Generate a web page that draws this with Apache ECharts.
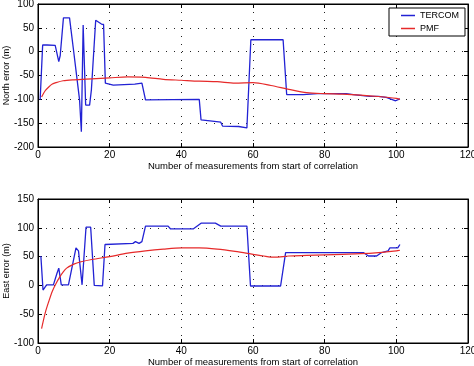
<!DOCTYPE html>
<html>
<head>
<meta charset="utf-8">
<script src="https://cdn.jsdelivr.net/npm/echarts@6/dist/echarts.min.js"></script>
<style>html,body{margin:0;padding:0;background:#fff}#c{width:474px;height:366px}</style>
</head>
<body>
<div id="c"></div>
<script>
var xTicks = [0, 20, 40, 60, 80, 100, 120];
var northTicks = [-200, -150, -100, -50, 0, 50, 100];
var eastTicks = [-100, -50, 0, 50, 100, 150];

var northTercom = [[0.6,-101],[1.3,14],[2.5,14],[4.8,13],[5.8,-21],[6.2,-8],[7.1,71],[8.8,71],[9.9,4],[11.6,-101],[12.1,-168],[12.6,56],[13.3,-112],[14.4,-112],[14.9,-80],[16.1,66],[17.7,58],[18.3,57],[18.8,-66],[21,-70],[27,-68],[29,-66],[30,-101],[45,-100],[45.5,-143],[48,-145],[51,-148],[51.5,-156],[56,-157],[58.3,-160],[59.4,25],[68.4,25],[69.4,-90],[74,-90],[78,-88],[86,-88],[88,-90],[92.6,-94],[95,-94],[97.2,-96],[99.8,-103],[101,-99]];
var northPmf = [[1,-95],[2,-82],[3,-74],[4,-68],[5,-65],[7,-61],[10,-59],[15,-57],[20,-55],[25,-53],[30,-54],[35,-58],[40,-60],[45,-62],[50,-63],[55,-66],[60,-65],[65,-71],[70,-79],[75,-86],[80,-88],[85,-89],[90,-91],[95,-94],[100,-98],[101,-100]];
var eastTercom = [[0.8,51],[1.1,50],[1.4,-8],[1.9,-10],[2.4,1],[4.3,1],[5.3,21],[5.8,30],[6.5,1],[8.5,1],[10.6,65],[11.3,60],[12.3,1],[13.4,101],[14.7,101],[15.7,0],[18.0,-1],[18.7,71],[26.5,73],[27.2,76],[28.2,73],[29,76],[30,103],[36.3,103],[37,98],[43.3,98],[45.5,108],[49.5,108],[51,103],[58.3,103],[59.3,-1],[67.7,-1],[69.1,57],[90.8,57],[92.2,51],[94.5,51],[95.9,57],[97.7,60],[98.2,65],[100.4,65],[101,71]];
var eastPmf = [[1,-75],[2,-48],[3,-28],[4,-10],[5,3],[6,14],[7,23],[8,30],[10,37],[12,41],[15,45],[20,50],[25,56],[30,60],[35,63],[40,65],[45,65],[50,63],[55,59],[60,54],[63,51],[66,49],[70,51],[75,52],[80,53],[85,54],[90,55],[95,57],[100,60],[101,61]];

var FONT = 'Liberation Sans';
var BLUE = '#2222d4';
var RED = '#e62a2a';

function mkX(grid, pos, main, ticks, gap) {
  return {
    type: 'value', gridIndex: grid, position: pos,
    min: ticks[0], max: ticks[ticks.length - 1], interval: ticks[1] - ticks[0],
    name: main ? 'Number of measurements from start of correlation' : '',
    nameLocation: 'middle', nameGap: gap, nameMoveOverlap: false,
    nameTextStyle: { fontFamily: FONT, fontSize: 9.5, color: '#000' },
    axisLine: { show: true, onZero: false, lineStyle: { color: '#000', width: 1 } },
    axisTick: { show: true, inside: true, length: 4, lineStyle: { color: '#000' } },
    axisLabel: { show: main, margin: 3, fontFamily: FONT, fontSize: 10, color: '#000' },
    splitLine: { show: main, lineStyle: { color: '#222', type: [1, 7], width: 1 } }
  };
}
function mkY(grid, pos, main, ticks, name) {
  return {
    type: 'value', gridIndex: grid, position: pos,
    min: ticks[0], max: ticks[ticks.length - 1], interval: ticks[1] - ticks[0],
    name: main ? name : '',
    nameLocation: 'middle', nameGap: 27, nameMoveOverlap: false,
    nameTextStyle: { fontFamily: FONT, fontSize: 9, color: '#000' },
    axisLine: { show: true, onZero: false, lineStyle: { color: '#000', width: 1 } },
    axisTick: { show: true, inside: true, length: 4, lineStyle: { color: '#000' } },
    axisLabel: { show: main, margin: 4, fontFamily: FONT, fontSize: 10, color: '#000' },
    splitLine: { show: main, lineStyle: { color: '#222', type: [1, 7], width: 1 } }
  };
}

var chart = echarts.init(document.getElementById('c'), null, { renderer: 'canvas' });
chart.setOption({
  animation: false,
  backgroundColor: '#fff',
  grid: [
    { left: 38, top: 4, width: 430, height: 143, show: true, borderColor: '#000', borderWidth: 1, containLabel: false, outerBoundsMode: 'none' },
    { left: 38, top: 199, width: 430, height: 144, show: true, borderColor: '#000', borderWidth: 1, containLabel: false, outerBoundsMode: 'none' }
  ],
  legend: {
    data: ['TERCOM', 'PMF'],
    orient: 'vertical', left: 389, top: 8,
    padding: [3, 6, 3, 12], itemGap: 4, itemWidth: 14, itemHeight: 1.5,
    icon: 'rect',
    backgroundColor: '#fff', borderColor: '#000', borderWidth: 1,
    textStyle: { fontFamily: FONT, fontSize: 9, color: '#000' }
  },
  xAxis: [
    mkX(0, 'bottom', true, xTicks, 14),
    mkX(0, 'top', false, xTicks, 14),
    mkX(1, 'bottom', true, xTicks, 14),
    mkX(1, 'top', false, xTicks, 14)
  ],
  yAxis: [
    mkY(0, 'left', true, northTicks, 'North error (m)'),
    mkY(0, 'right', false, northTicks, ''),
    mkY(1, 'left', true, eastTicks, 'East error (m)'),
    mkY(1, 'right', false, eastTicks, '')
  ],
  series: [
    { name: 'TERCOM', type: 'line', xAxisIndex: 0, yAxisIndex: 0, data: northTercom, symbol: 'none', lineStyle: { color: BLUE, width: 1.3 }, itemStyle: { color: BLUE } },
    { name: 'PMF', type: 'line', xAxisIndex: 0, yAxisIndex: 0, data: northPmf, symbol: 'none', smooth: 0.3, lineStyle: { color: RED, width: 1.2 }, itemStyle: { color: RED } },
    { name: 'TERCOM', type: 'line', xAxisIndex: 2, yAxisIndex: 2, data: eastTercom, symbol: 'none', lineStyle: { color: BLUE, width: 1.3 }, itemStyle: { color: BLUE } },
    { name: 'PMF', type: 'line', xAxisIndex: 2, yAxisIndex: 2, data: eastPmf, symbol: 'none', smooth: 0.3, lineStyle: { color: RED, width: 1.2 }, itemStyle: { color: RED } }
  ]
});
</script>
</body>
</html>
